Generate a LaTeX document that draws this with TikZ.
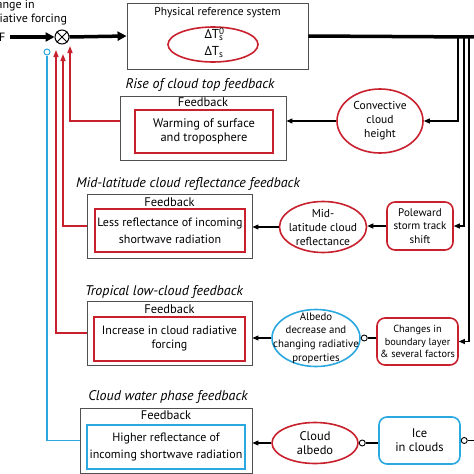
\documentclass[tikz,border=0pt]{standalone}
\usepackage{fontspec}
\setmainfont{PT Sans}
\usetikzlibrary{shapes.geometric,arrows.meta}
\definecolor{fbred}{HTML}{C9202E}
\definecolor{fbblue}{HTML}{2AA8E0}
\definecolor{fbgray}{HTML}{505050}
\tikzset{
  txt/.style={font=\fontsize{12}{14}\selectfont, align=center, inner sep=0pt},
  ttl/.style={font=\fontsize{14}{16}\selectfont\itshape, inner sep=0pt},
  fbbox/.style={draw=fbgray, line width=0.9pt, inner sep=0pt},
  redbox/.style={draw=fbred, line width=1.8pt, inner sep=0pt, txt},
  bluebox/.style={draw=fbblue, line width=1.8pt, inner sep=0pt, txt},
  redell/.style={ellipse, draw=fbred, line width=1.6pt, inner sep=0pt},
  blueell/.style={ellipse, draw=fbblue, line width=1.6pt, inner sep=0pt},
  redround/.style={rounded corners=8pt, draw=fbred, line width=1.6pt, txt},
  blueround/.style={rounded corners=8pt, draw=fbblue, line width=1.6pt, txt},
  conn/.style={line width=1.1pt, -{Triangle[length=6pt,width=5pt]}},
  mainline/.style={line width=3.5pt},
  mainarrow/.style={line width=3.5pt, -{Triangle[length=9pt,width=9pt]}},
  fbarrow/.style={line width=1.4pt, fbred, -{Triangle[length=7pt,width=5pt]}},
  opencirc/.style={circle, draw, line width=0.9pt, fill=white, minimum size=6pt, inner sep=0pt},
}
\begin{document}
\begin{tikzpicture}[x=1pt,y=-1pt]
\useasboundingbox (0,0) rectangle (474,474);
\fill[white] (0,0) rectangle (474,474);

% input
\node[txt, align=left, anchor=west] (inTxt) at (-17,12) {Change in\\radiative forcing};
\node[txt, anchor=west] (dF) at (-8,37) {ΔF};
\coordinate (inF) at (10,37);
\node[circle, draw, line width=1pt, minimum size=14pt, inner sep=0pt] (sum) at (62,37) {};
\draw[line width=1pt] (sum.north west) -- (sum.south east) (sum.north east) -- (sum.south west);

% physical reference system
\node[fbbox, minimum width=181pt, minimum height=66pt] (phys) at (217.5,36) {};
\node[txt, font=\fontsize{11.5}{14}\selectfont] (physT) at (217.5,13) {Physical reference system};
\node[redell, minimum width=90pt, minimum height=35pt] (dT) at (213,44.5) {};
\node[txt, font=\fontsize{13}{17}\selectfont] (dTT) at (214,43) {ΔT\rlap{\textsuperscript{0}}\textsubscript{s}\\ΔT\textsubscript{s}};

\draw[mainarrow] (inF) -- (sum.west);
\draw[mainarrow] (sum.east) -- (phys.west);
\coordinate (outR) at (476,37);
\draw[mainline] (phys.east) -- (outR);
\coordinate (t1) at (458,36);
\coordinate (t2) at (464,36);
\coordinate (t3) at (469,36);

% row 1
\node[ttl] (ttl1) at (200,85) {Rise of cloud top feedback};
\node[fbbox, minimum width=166pt, minimum height=64pt] (fb1) at (203,128) {};
\node[txt, font=\fontsize{12.5}{14}\selectfont] (fb1T) at (203,102) {Feedback};
\node[redbox, font=\fontsize{12.4}{14}\selectfont, minimum width=138pt, minimum height=43pt] (in1) at (204,131.5) {Warming of surface\\and troposphere};
\node[redell, minimum width=86pt, minimum height=64pt] (conv) at (380,121) {};
\node[txt, font=\fontsize{11.5}{14}\selectfont] (convT) at (380,121) {Convective\\cloud\\height};
\draw[conn] (t1) |- (conv.east);
\draw[conn] (conv.west) -- (conv.west -| fb1.east);

% row 2
\node[ttl] (ttl2) at (188,184) {Mid-latitude cloud reflectance feedback};
\node[fbbox, minimum width=165pt, minimum height=64pt] (fb2) at (169.5,226) {};
\node[txt, font=\fontsize{12.5}{14}\selectfont] (fb2T) at (169.5,202) {Feedback};
\node[redbox, font=\fontsize{12}{17}\selectfont, minimum width=150pt, minimum height=43pt] (in2) at (170,230.5) {Less reflectance of incoming\\shortwave radiation};
\node[redell, minimum width=87pt, minimum height=51pt] (mid) at (323,227) {};
\node[txt, font=\fontsize{11.5}{14}\selectfont] (midT) at (323,227) {Mid-\\latitude cloud\\reflectance};
\node[redround, font=\fontsize{11}{13.5}\selectfont, minimum width=66pt, minimum height=48pt] (pole) at (420,226) {Poleward\\storm track\\shift};
\draw[conn] (t2) |- (pole.east);
\draw[conn] (pole.west) -- (pole.west -| mid.east);
\draw[conn] (mid.west) -- (mid.west -| fb2.east);

% row 3
\node[ttl] (ttl3) at (164,292) {Tropical low-cloud feedback};
\node[fbbox, minimum width=165pt, minimum height=64pt] (fb3) at (169.5,333) {};
\node[txt, font=\fontsize{12.5}{14}\selectfont] (fb3T) at (169.5,309) {Feedback};
\node[redbox, minimum width=151pt, minimum height=44pt] (in3) at (169.5,339) {Increase in cloud radiative\\forcing};
\node[blueell, minimum width=88pt, minimum height=57pt] (alb) at (316,338) {};
\node[txt, font=\fontsize{10.8}{13.7}\selectfont] (albT) at (316,338) {Albedo\\decrease and\\changing radiative\\properties};
\node[redround, font=\fontsize{10.3}{12.5}\selectfont, minimum width=81pt, minimum height=47pt] (chb) at (417.5,341.5) {Changes in\\boundary layer\\\& several factors};
\draw[conn] (t3) |- (chb.east);
\node[opencirc, anchor=west] (cA) at (alb.east) {};
\draw[line width=1.1pt] (cA) -- (cA -| chb.west);
\draw[conn] (alb.west) -- (alb.west -| fb3.east);

% row 4
\node[ttl] (ttl4) at (168,397) {Cloud water phase feedback};
\node[fbbox, minimum width=172pt, minimum height=65pt] (fb4) at (166,440.5) {};
\node[txt, font=\fontsize{12.5}{14}\selectfont] (fb4T) at (166,415) {Feedback};
\node[bluebox, font=\fontsize{12}{17}\selectfont, minimum width=158pt, minimum height=44pt] (in4) at (166,447) {Higher reflectance of\\incoming shortwave radiation};
\node[redell, minimum width=86pt, minimum height=41pt] (calb) at (315,443) {};
\node[txt, font=\fontsize{12.5}{14}\selectfont] (calbT) at (315,443) {Cloud\\albedo};
\node[blueround, font=\fontsize{12.5}{14}\selectfont, minimum width=81pt, minimum height=47pt] (ice) at (419.5,440.5) {Ice\\in clouds};
\node[opencirc, anchor=west] (cB) at (calb.east) {};
\draw[line width=1.1pt] (cB) -- (cB -| ice.west);
\draw[conn] (calb.west) -- (calb.west -| fb4.east);
\node[opencirc, anchor=west] (cC) at (ice.east) {};
\coordinate (iceOut) at (476,440.5);
\draw[line width=1.1pt] (cC) -- (iceOut);

% feedback returns
\coordinate (s1) at (70,46);
\coordinate (s2) at (63,54);
\coordinate (s3) at (56,50);
\draw[fbarrow] (fb1.west |- conv.west) -| (s1);
\draw[fbarrow] (fb2.west) -| (s2);
\draw[fbarrow] (fb3.west) -| (s3);
\node[opencirc, draw=fbblue, line width=1pt] (cD) at (47,52) {};
\draw[line width=1.4pt, fbblue] (cD) |- (fb4.west);
\end{tikzpicture}
\end{document}
